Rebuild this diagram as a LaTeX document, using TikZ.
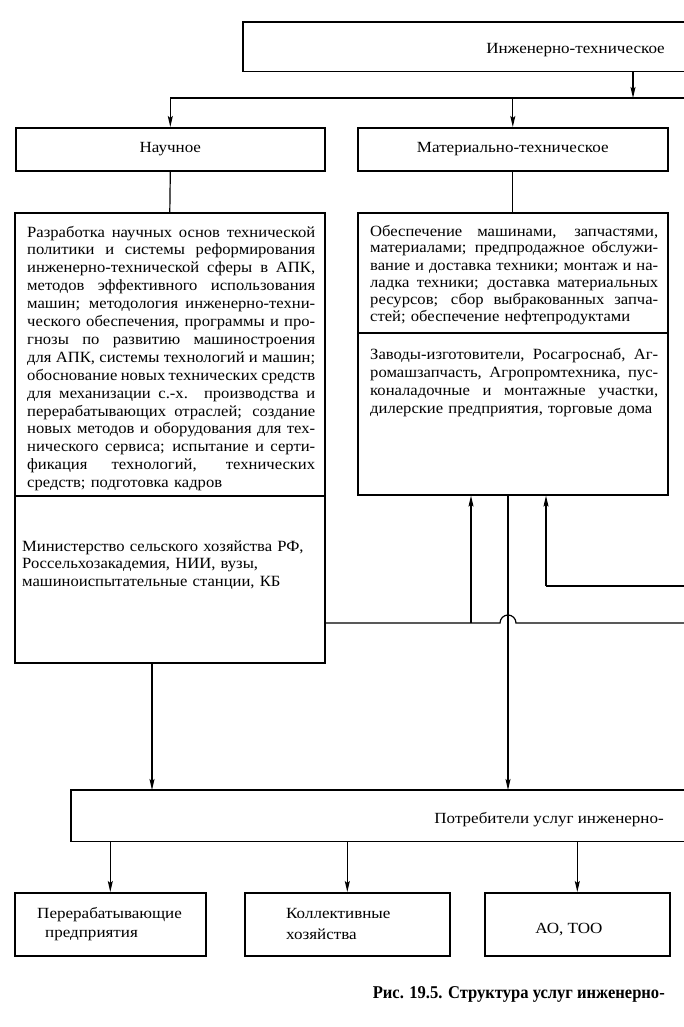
\documentclass[tikz,border=0pt]{standalone}
\usepackage{fontspec}
\setmainfont{Liberation Serif}
\newfontfamily\bodyf[FakeStretch=1.065]{Liberation Serif}
\newfontfamily\lblf[FakeStretch=1.1]{Liberation Serif}
\newfontfamily\capf[FakeStretch=0.92]{Liberation Serif}
\usetikzlibrary{arrows.meta,calc}
\newcommand{\JL}[1]{{\spaceskip=0pt\xspaceskip=0pt\makebox[288pt][s]{#1}}}
\begin{document}
\begin{tikzpicture}[x=1pt,y=-1pt,
 box/.style={draw,line width=1.6pt,rectangle,inner sep=0pt,anchor=north west},
 openbox/.style={rectangle,inner sep=0pt,anchor=north west},
 edge/.style={line width=1.6pt},
 conn/.style={line width=1.2pt},
 arr/.style={conn,-{Stealth[length=11pt,width=5pt,inset=2pt]}},
 lbl/.style={font=\lblf\fontsize{15.5}{18}\selectfont,inner sep=0pt},
 body/.style={font=\bodyf\fontsize{15.6}{17.9}\selectfont,inner sep=0pt,text width=292pt,align=left,anchor=base west}]
\useasboundingbox (0,0) rectangle (684,1027);
\fill[white] (0,0) rectangle (684,1027);

% top box
\node[openbox,minimum width=441pt,minimum height=49pt] (top) at (243,22) {};
\draw[edge] (top.north east) -- (top.north west) -- (top.south west) -- (top.south east);
\node[lbl,anchor=east] (toptxt) at (665,50) {Инженерно-техническое};

% second level
\node[box,lbl,minimum width=309pt,minimum height=43pt] (nauch) at (15,127) {Научное};
\node[box,lbl,minimum width=310pt,minimum height=43pt] (mat) at (357,127) {Материально-техническое};

\coordinate (j) at (633,98);
\coordinate (jr) at (684,98);
\draw[arr] (top.south -| j) -- (j);
\draw[conn] (nauch.north |- j) -- (jr);
\draw[arr] (nauch.north |- j) -- (nauch.north);
\draw[arr] (mat.north |- j) -- (mat.north);

% big boxes
\node[box,minimum width=310pt,minimum height=283pt] (lu) at (14,212) {};
\node[box,minimum width=310pt,minimum height=167pt] (ll) at (14,495) {};
\node[box,minimum width=310pt,minimum height=120pt] (ru) at (357,212) {};
\node[box,minimum width=310pt,minimum height=162pt] (rl) at (357,332) {};
\draw[conn] (nauch.south) -- (lu.north);
\draw[conn] (mat.south) -- (ru.north);

\node[body] (lutxt) at (27,237) {%
\JL{Разработка научных основ технической}\\
\JL{политики и системы реформирования}\\
\JL{инженерно-технической сферы в АПК,}\\
\JL{методов эффективного использования}\\
\JL{машин; методология инженерно-техни-}\\
\JL{ческого обеспечения, программы и про-}\\
\JL{гнозы по развитию машиностроения}\\
\JL{для АПК, системы технологий и машин;}\\
\JL{обоснование новых технических средств}\\
\JL{для механизации с.-х. производства и}\\
\JL{перерабатывающих отраслей; создание}\\
\JL{новых методов и оборудования для тех-}\\
\JL{нического сервиса; испытание и серти-}\\
\JL{фикация технологий, технических}\\
средств; подготовка кадров};

\node[body,font=\bodyf\fontsize{15.6}{17.5}\selectfont] (lltxt) at (22,551) {%
Министерство сельского хозяйства РФ,\\
Россельхозакадемия, НИИ, вузы,\\
машиноиспытательные станции, КБ};

\node[body,font=\bodyf\fontsize{15.6}{17}\selectfont] (rutxt) at (370,236) {%
\JL{Обеспечение машинами, запчастями,}\\
\JL{материалами; предпродажное обслужи-}\\
\JL{вание и доставка техники; монтаж и на-}\\
\JL{ладка техники; доставка материальных}\\
\JL{ресурсов; сбор выбракованных запча-}\\
стей; обеспечение нефтепродуктами};

\node[body,font=\bodyf\fontsize{15.6}{18.3}\selectfont] (rltxt) at (370,359) {%
\JL{Заводы-изготовители, Росагроснаб, Аг-}\\
\JL{ромашзапчасть, Агропромтехника, пус-}\\
\JL{коналадочные и монтажные участки,}\\
дилерские предприятия, торговые дома};

% consumers box
\node[openbox,minimum width=613pt,minimum height=51pt] (potr) at (71,790) {};
\draw[edge] (potr.north east) -- (potr.north west) -- (potr.south west) -- (potr.south east);
\node[lbl,anchor=base east] (potrtxt) at (664,823) {Потребители услуг инженерно-};

% middle connectors
\coordinate (c1) at (471,623);
\coordinate (c2) at (546,586);
\coordinate (c3) at (508,700);
\coordinate (c4) at (152,700);
\coordinate (e1) at (684,623);
\coordinate (e2) at (684,586);
\draw[conn] (ll.east |- c1) -- (500,623) arc[start angle=180,end angle=360,radius=8] -- (e1);
\draw[arr] (c1) -- (c1 |- rl.south);
\draw[conn] (e2) -- (c2);
\draw[arr] (c2) -- (c2 |- rl.south);
\draw[arr] (c3 |- rl.south) -- (c3 |- potr.north);
\draw[arr] (c4 |- ll.south) -- (c4 |- potr.north);

% bottom boxes
\node[box,minimum width=191pt,minimum height=63pt] (b1) at (14,892) {};
\node[box,minimum width=205pt,minimum height=63pt] (b2) at (244,892) {};
\node[box,minimum width=185pt,minimum height=63pt] (b3) at (484,892) {};
\draw[arr] (b1.north |- potr.south) -- (b1.north);
\draw[arr] (b2.north |- potr.south) -- (b2.north);
\draw[arr] (b3.north |- potr.south) -- (b3.north);

\node[lbl,anchor=base west,text width=170pt,align=left,font=\lblf\fontsize{15.5}{19}\selectfont] (b1txt) at (37,918) {Перерабатывающие\\\hspace*{8pt}предприятия};
\node[lbl,anchor=base west,text width=170pt,align=left,font=\lblf\fontsize{15.5}{21}\selectfont] (b2txt) at (286,918) {Коллективные\\хозяйства};
\node[lbl,anchor=base] (b3txt) at (569,933) {АО, ТОО};

% caption
\node[font=\capf\bfseries\fontsize{18}{21}\selectfont,anchor=base east,inner sep=0pt] (cap) at (665,998) {Рис. 19.5. Структура услуг инженерно-};
\end{tikzpicture}
\end{document}
